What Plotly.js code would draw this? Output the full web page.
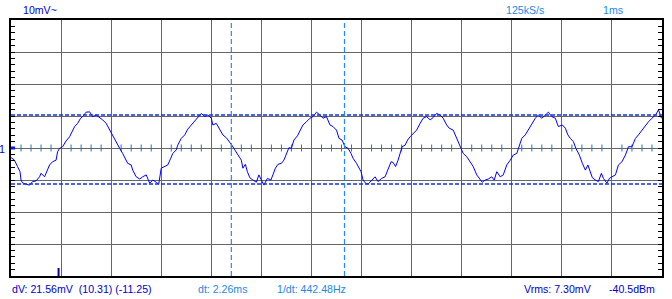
<!DOCTYPE html>
<html>
<head>
<meta charset="utf-8">
<script src="https://cdn.plot.ly/plotly-3.0.1.min.js"></script>
<style>
html,body{margin:0;padding:0;background:#fff;}
#chart{width:672px;height:299px;}
</style>
</head>
<body>
<div id="chart"></div>
<script>
// Time in ms (1 ms/div), voltage in mV (10 mV/div)
const timeMs = [0.00,0.07,0.13,0.18,0.20,0.23,0.30,0.37,0.43,0.50,0.57,0.60,0.67,0.72,0.77,0.83,0.90,0.93,0.97,1.03,1.10,1.17,1.20,1.27,1.33,1.39,1.43,1.50,1.57,1.63,1.70,1.77,1.83,1.90,1.97,2.03,2.10,2.15,
2.17,2.23,2.28,2.33,2.40,2.43,2.50,2.57,2.63,2.70,2.77,2.83,2.90,2.95,3.00,3.07,3.13,3.19,3.23,3.30,3.33,3.40,3.47,3.53,3.60,3.67,3.73,3.80,3.87,3.93,4.00,4.03,4.10,4.17,4.23,4.30,4.35,
4.41,4.47,4.53,4.60,4.63,4.68,4.72,4.77,4.83,4.90,4.95,5.00,5.05,5.12,5.19,5.23,5.28,5.33,5.40,5.45,5.50,5.55,5.60,5.65,5.72,5.77,5.83,5.90,5.97,6.03,6.10,6.17,6.23,6.30,6.37,6.43,6.50,6.55,
6.61,6.67,6.73,6.79,6.83,6.90,6.95,6.99,7.03,7.08,7.13,7.20,7.27,7.33,7.40,7.47,7.53,7.59,7.63,7.68,7.73,7.77,7.81,7.87,7.92,7.97,8.03,8.10,8.17,8.23,8.30,8.37,8.43,8.50,8.57,8.63,8.70,8.75,
8.83,8.90,8.97,9.03,9.10,9.17,9.23,9.30,9.37,9.41,9.47,9.53,9.60,9.65,9.70,9.77,9.83,9.90,9.97,10.03,10.10,10.15,10.20,10.27,10.33,10.40,10.47,10.53,10.60,10.67,10.73,10.80,10.87,10.93,
11.01,11.07,11.12,11.17,11.23,11.28,11.35,11.41,11.47,11.52,11.57,11.61,11.67,11.73,11.79,11.83,11.90,11.95,12.00,12.07,12.13,12.20,12.27,12.33,12.40,12.47,12.53,12.60,12.67,12.73,12.80,12.87,12.93,12.99];

const voltMv = [-3.0,-3.8,-5.8,-7.4,-10.0,-10.9,-11.3,-11.6,-10.5,-10.3,-9.0,-7.9,-9.0,-7.4,-5.3,-4.3,-3.8,-1.2,-0.1,0.4,2.2,3.5,4.6,6.7,7.7,9.3,9.8,11.2,11.3,9.8,10.3,9.5,8.8,7.7,5.6,4.1,1.5,0.1,
-0.1,-1.7,-3.2,-4.8,-5.3,-6.9,-9.0,-9.7,-9.0,-8.4,-11.0,-10.0,-10.7,-11.3,-6.3,-5.8,-5.3,-3.2,-1.7,-0.6,0.9,3.0,4.1,5.9,7.2,8.4,9.8,10.8,9.8,10.3,9.3,7.2,7.7,5.6,4.1,3.2,2.2,
0.9,-0.6,-2.2,-3.8,-6.3,-5.1,-7.4,-9.3,-10.0,-10.7,-8.4,-10.0,-11.6,-9.5,-10.0,-8.4,-6.3,-5.1,-4.8,-3.8,-1.7,0.1,-0.1,2.5,3.8,5.6,7.2,8.2,9.3,9.8,11.2,10.3,9.3,9.8,7.2,6.7,5.6,3.0,
2.5,0.4,-0.1,-1.7,-3.2,-4.8,-6.3,-7.4,-10.0,-11.0,-11.3,-10.0,-9.0,-10.5,-9.5,-9.0,-6.9,-4.3,-4.5,-5.8,-3.8,-1.7,0.4,0.9,2.5,3.5,4.6,5.6,7.7,9.3,9.8,8.8,9.5,10.8,10.3,9.3,7.2,6.2,
5.6,3.0,0.4,-1.7,-2.7,-4.3,-5.8,-8.4,-10.0,-10.7,-10.0,-9.7,-9.0,-10.0,-7.4,-9.0,-8.4,-5.3,-3.8,-2.2,-1.7,0.9,3.0,4.1,5.6,7.7,9.3,10.3,9.3,10.3,11.2,9.8,9.3,6.7,
7.2,6.2,4.1,3.0,2.0,-0.1,-2.2,-4.8,-6.9,-5.3,-7.4,-9.3,-10.0,-10.5,-7.9,-9.5,-11.0,-9.5,-9.0,-8.4,-5.3,-4.3,-2.2,0.4,0.4,3.0,4.1,5.6,7.2,8.2,9.3,10.3,11.9,9.3];

// Cursors
const cursorV = [10.31, -11.25];   // mV
const cursorT = [4.40, 6.66];      // ms
const triggerT = [0.95];           // ms

// Readout texts
const topLeftText = "10mV~";
const topRightTexts = ["125kS/s", "1ms"];
const bottomTexts = ["dV: 21.56mV\u00a0\u00a0(10.31) (-11.25)", "dt: 2.26ms", "1/dt: 442.48Hz", "Vrms: 7.30mV", "-40.5dBm"];
const channelLabel = "1";

const DARK = '#0000d0';
const LIGHT = '#1e88e6';

// center-line minor tick marks (every 0.2 ms)
const cx = [];
for (let i = 1; i < 65; i++) { if (i % 5 !== 0) cx.push(i * 0.2); }

const traces = [
  {x: cx, y: cx.map(() => 0), mode: 'markers', type: 'scatter', hoverinfo: 'skip',
   marker: {symbol: 'line-ns-open', size: 5, line: {color: '#666', width: 1}}},
  {x: timeMs, y: voltMv, mode: 'lines', type: 'scatter',
   line: {color: '#0000ff', width: 1}}
];

const shapes = [];
cursorV.forEach(v => shapes.push({type: 'line', xref: 'paper', yref: 'y', x0: 0, x1: 1, y0: v, y1: v,
  line: {color: '#1030e8', width: 1.3, dash: '4px,2px'}}));
cursorT.forEach(t => shapes.push({type: 'line', xref: 'x', yref: 'paper', x0: t, x1: t, y0: 0, y1: 1,
  line: {color: '#1e8cff', width: 1.2, dash: '5px,3px'}}));
triggerT.forEach(t => shapes.push({type: 'rect', xref: 'x', yref: 'paper', xsizemode: 'pixel', ysizemode: 'pixel',
  xanchor: t, yanchor: 0, x0: -1, x1: 1, y0: 0, y1: 8, line: {width: 0}, fillcolor: '#0000c0'}));
shapes.push({type: 'rect', xref: 'paper', yref: 'y', xsizemode: 'pixel', ysizemode: 'pixel',
  xanchor: 0, yanchor: 0, x0: 0, x1: 4, y0: -1.5, y1: 1.5, line: {width: 0}, fillcolor: '#1010ff'});

const font = {family: 'Liberation Sans, Arial, sans-serif', size: 10.6};
function ann(text, px, top, color, anchor) {
  return {text: text, xref: 'paper', yref: 'paper', x: 0, y: top ? 1 : 0,
    xanchor: anchor || 'left', yanchor: 'middle', showarrow: false,
    xshift: px - 11, yshift: top ? 10.5 : -13, font: Object.assign({color: color}, font)};
}
const annotations = [
  ann(topLeftText, 21, true, DARK),
  ann(topRightTexts[0], 504, true, LIGHT),
  ann(topRightTexts[1], 601, true, LIGHT),
  ann(bottomTexts[0], 10, false, DARK),
  ann(bottomTexts[1], 196, false, LIGHT),
  ann(bottomTexts[2], 275, false, LIGHT),
  ann(bottomTexts[3], 522, false, DARK),
  ann(bottomTexts[4], 607, false, DARK),
  {text: channelLabel, xref: 'paper', yref: 'y', x: 0, y: 0, xanchor: 'right', yanchor: 'middle',
   showarrow: false, xshift: -4, yshift: -1, font: Object.assign({color: DARK}, font)}
];

const layout = {
  width: 672, height: 299,
  margin: {l: 11, r: 10, t: 20, b: 23, pad: 0},
  paper_bgcolor: '#fff', plot_bgcolor: '#fff',
  showlegend: false,
  xaxis: {range: [0, 13], dtick: 1, tick0: 0, showgrid: true, gridcolor: '#666', gridwidth: 1,
    zeroline: false, showticklabels: false, ticks: '', showline: true, linecolor: '#000', linewidth: 2, mirror: true,
    fixedrange: true},
  yaxis: {range: [-40, 40], dtick: 10, tick0: 0, showgrid: true, gridcolor: '#666', gridwidth: 1,
    zeroline: false, showticklabels: false, ticks: 'inside', ticklen: 4, tickcolor: '#000', tickwidth: 1,
    showline: true, linecolor: '#000', linewidth: 2, mirror: 'allticks',
    minor: {dtick: 2, ticks: 'inside', ticklen: 4, tickcolor: '#000', tickwidth: 1, showgrid: false},
    fixedrange: true},
  shapes: shapes,
  annotations: annotations
};

Plotly.newPlot('chart', traces, layout, {displayModeBar: false, staticPlot: true});
</script>
</body>
</html>
